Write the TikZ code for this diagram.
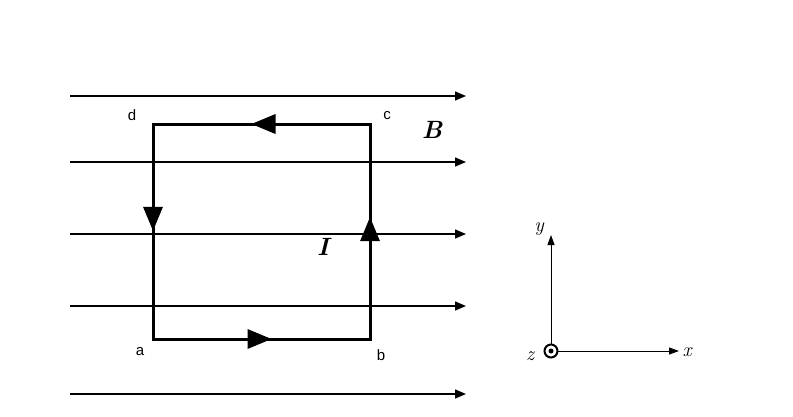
\documentclass[tikz,border=0pt]{standalone}
\usepackage{fontspec}
\newfontfamily\arial{Liberation Sans}
\usetikzlibrary{arrows.meta,decorations.markings}
\begin{document}
\begin{tikzpicture}[x=1pt,y=-1pt,
  field/.style={line width=1.4pt,-{Triangle[length=11pt,width=9pt]}},
  wire/.style={line width=3pt},
  midarrow/.style={postaction={decorate},decoration={markings,mark=at position #1 with {\fill (10pt,0) -- (-14pt,10pt) -- (-14pt,-10pt) -- cycle;}}},
  lbl/.style={font=\arial\fontsize{15}{17}\selectfont},
  ax/.style={line width=1pt,-{Triangle[length=10pt,width=7pt]}}]
\useasboundingbox (0,0) rectangle (793,416);
\foreach \yy/\n in {96/f1,162/f2,234/f3,306/f4,394/f5}{
  \coordinate (\n s) at (70,\yy); \coordinate (\n e) at (466,\yy);
  \draw[field] (\n s) -- (\n e);}
\coordinate (a) at (153,339); \coordinate (b) at (370,339);
\coordinate (c) at (370,124); \coordinate (d) at (153,124);
\draw[wire] (a) -- (b) -- (c) -- (d) -- cycle;
\draw[wire,draw=none,midarrow=0.5] (a) -- (b);
\draw[wire,draw=none,midarrow=0.52] (b) -- (c);
\draw[wire,draw=none,midarrow=0.5] (c) -- (d);
\draw[wire,draw=none,midarrow=0.45] (d) -- (a);
\node[lbl] (la) at (140,352) {a};
\node[lbl] (lb) at (381,355) {b};
\node[lbl] (lc) at (387,116) {c};
\node[lbl] (ld) at (132,115) {d};
\node[font=\fontsize{25}{28}\selectfont\bfseries\itshape] (B) at (432,130) {B};
\node[font=\fontsize{25}{28}\selectfont\bfseries\itshape] (I) at (323,247) {I};
\coordinate (o) at (551,351);
\coordinate (yt) at (551,235); \coordinate (xt) at (679,351);
\draw[ax] (o) -- (yt);
\draw[ax] (o) -- (xt);
\draw[line width=2pt,fill=white] (o) circle (6.5);
\fill (o) circle (2.5);
\node[font=\fontsize{20}{22}\selectfont\itshape] (ly) at (539,229) {y};
\node[font=\fontsize{20}{22}\selectfont\itshape] (lx) at (687,352) {x};
\node[font=\fontsize{20}{22}\selectfont\itshape] (lz) at (530,356) {z};
\end{tikzpicture}
\end{document}
